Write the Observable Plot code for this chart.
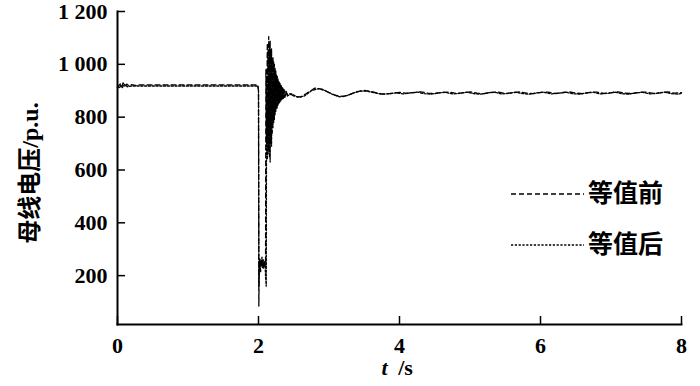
<!DOCTYPE html>
<html>
<head>
<meta charset="utf-8">
<script src="https://cdn.jsdelivr.net/npm/d3@7"></script>
<script src="https://cdn.jsdelivr.net/npm/@observablehq/plot@0.6"></script>
<style>
  html, body { margin: 0; padding: 0; background: #fff; }
  #wrap { position: relative; width: 700px; height: 386px; }
  #wrap svg text { font-family: "Liberation Serif", "Noto Sans CJK SC", serif; }
  #legend { position: absolute; left: 0; top: 0; }
</style>
</head>
<body>
<div id="wrap"></div>
<script>
// ---- data ----
const seriesNames = ["等值前", "等值后"];
const xTicks = [0, 2, 4, 6, 8];
const yTicks = [200, 400, 600, 800, 1000, 1200];
const yLabel = "母线电压/p.u.";

const tBefore = [0, 0.02, 0.04, 0.06, 0.08, 0.1, 0.13, 0.16, 0.2, 0.25, 0.3, 0.6, 1.0, 1.5, 1.99,
  2.0, 2.005, 2.01, 2.02, 2.03, 2.04, 2.05, 2.06, 2.07, 2.08, 2.09, 2.1,
  2.105, 2.115, 2.125, 2.135, 2.145, 2.155, 2.165, 2.175, 2.185, 2.195, 2.205, 2.215, 2.225, 2.235,
  2.245, 2.255, 2.265, 2.275, 2.285, 2.295, 2.305, 2.315, 2.325, 2.335, 2.345, 2.355, 2.365, 2.375,
  2.39, 2.41, 2.44, 2.5, 2.6, 2.7, 2.8, 2.9, 3.0, 3.1, 3.2, 3.3, 3.4, 3.5, 3.6, 3.7, 3.8, 3.9,
  4.0, 4.1, 4.2, 4.3, 4.4, 4.5, 4.6, 4.7, 4.8, 4.9, 5.0, 5.1, 5.2, 5.3, 5.4, 5.5, 5.6, 5.7, 5.8, 5.9,
  6.0, 6.1, 6.2, 6.3, 6.4, 6.5, 6.6, 6.7, 6.8, 6.9, 7.0, 7.1, 7.2, 7.3, 7.4, 7.5, 7.6, 7.7, 7.8, 7.9, 8.0];
const vBefore = [912, 920, 926, 915, 930, 917, 925, 919, 923, 920, 922, 922, 922, 922, 922,
  900, 85, 230, 255, 215, 260, 240, 250, 225, 255, 235, 245,
  980, 700, 1080, 660, 1105, 650, 1090, 700, 1060, 740, 1030, 780, 1000, 810,
  975, 830, 955, 845, 940, 855, 928, 862, 918, 868, 910, 872, 903, 876,
  897, 880, 890, 880, 876, 893, 910, 906, 893, 882, 878, 886, 897, 901, 897, 890, 887, 890,
  894, 890, 893, 896, 891, 889, 894, 895, 890, 892, 896, 891, 889, 894, 895, 890, 892, 896, 891, 889,
  894, 895, 890, 892, 896, 891, 889, 894, 895, 890, 892, 896, 891, 889, 894, 895, 890, 892, 896, 891, 893];

const tAfter = [0, 0.03, 0.05, 0.07, 0.1, 0.14, 0.2, 0.3, 1.0, 1.5, 1.99,
  2.0, 2.006, 2.012, 2.02, 2.03, 2.04, 2.05, 2.06, 2.07, 2.08, 2.09, 2.1, 2.11,
  2.115, 2.125, 2.135, 2.145, 2.155, 2.165, 2.175, 2.185, 2.195, 2.205, 2.215, 2.225, 2.235,
  2.245, 2.255, 2.265, 2.275, 2.285, 2.295, 2.305, 2.315, 2.325, 2.335, 2.345, 2.355, 2.37,
  2.39, 2.42, 2.47, 2.55, 2.65, 2.75, 2.85, 2.95, 3.05, 3.15, 3.25, 3.35, 3.45, 3.55, 3.65, 3.75, 3.85, 3.95,
  4.05, 4.15, 4.25, 4.35, 4.45, 4.55, 4.65, 4.75, 4.85, 4.95, 5.05, 5.15, 5.25, 5.35, 5.45, 5.55, 5.65, 5.75, 5.85, 5.95,
  6.05, 6.15, 6.25, 6.35, 6.45, 6.55, 6.65, 6.75, 6.85, 6.95, 7.05, 7.15, 7.25, 7.35, 7.45, 7.55, 7.65, 7.75, 7.85, 7.95, 8.0];
const vAfter = [918, 910, 922, 912, 924, 915, 918, 918, 918, 918, 918,
  905, 160, 240, 265, 235, 250, 270, 230, 260, 240, 255, 200, 160,
  950, 640, 1050, 680, 1075, 630, 1040, 690, 1020, 760, 1010, 790, 985,
  820, 960, 835, 945, 850, 932, 858, 922, 865, 912, 870, 905, 875,
  898, 882, 888, 876, 880, 900, 908, 900, 886, 877, 881, 892, 899, 898, 892, 887, 889, 892,
  888, 892, 895, 889, 887, 892, 894, 888, 890, 895, 889, 887, 892, 894, 888, 890, 895, 889, 887, 892,
  894, 888, 890, 895, 889, 887, 892, 894, 888, 890, 895, 889, 887, 892, 894, 888, 890, 895, 889, 887, 890];

// ---- build ----
const lineData = [
  ...tBefore.map((t, i) => ({t, v: vBefore[i], s: seriesNames[0]})),
  ...tAfter.map((t, i) => ({t, v: vAfter[i], s: seriesNames[1]}))
];
const dashes = {[seriesNames[0]]: "5,3", [seriesNames[1]]: "2.2,1.6"};
const fmt = d3.formatLocale({decimal: ".", thousands: " ", grouping: [3], currency: ["", ""]}).format(",");
const font = "Liberation Serif, Noto Sans CJK SC, serif";

const chart = Plot.plot({
  width: 700, height: 386,
  marginLeft: 117, marginRight: 19, marginTop: 11, marginBottom: 62,
  x: {domain: [0, 8]},
  y: {domain: [15, 1200]},
  style: {fontFamily: font, fontWeight: "bold", fontSize: "22px", color: "black", background: "white", overflow: "visible"},
  marks: [
    Plot.axisY(yTicks, {tickSize: -8, tickFormat: () => "", label: null, strokeWidth: 1.5}),
    Plot.axisY(yTicks, {tickSize: 0, tickPadding: 10, tickFormat: fmt, label: null, fontSize: 22, fontWeight: "bold", fontFamily: font}),
    Plot.axisX(xTicks, {tickSize: -8, tickFormat: () => "", label: null, strokeWidth: 1.5}),
    Plot.axisX(xTicks, {tickSize: 0, tickPadding: 13, tickFormat: d => String(d), label: null, fontSize: 22, fontWeight: "bold", fontFamily: font}),
    Plot.frame({anchor: "left", strokeWidth: 2}),
    Plot.frame({anchor: "bottom", strokeWidth: 2}),
    ...seriesNames.map(name => Plot.line(lineData.filter(d => d.s === name), {
      x: "t", y: "v", stroke: "black", strokeWidth: 1.3, strokeDasharray: dashes[name]
    })),
    Plot.text([yLabel], {frameAnchor: "left", rotate: -90, textAnchor: "middle", dx: -87, dy: 5, text: d => d, fontSize: 24, fontWeight: "bold", fontFamily: font}),
    Plot.text(["t"], {frameAnchor: "bottom", dy: 50, dx: -15, text: d => d, fontStyle: "italic", fontSize: 22, fontWeight: "bold", fontFamily: font}),
    Plot.text(["/s"], {frameAnchor: "bottom", dy: 50, dx: 6, text: d => d, fontSize: 22, fontWeight: "bold", fontFamily: font})
  ]
});
const wrap = document.getElementById("wrap");
wrap.appendChild(chart);

// legend overlay
const leg = d3.select(wrap).append("svg").attr("id", "legend").attr("width", 700).attr("height", 386);
const legRows = [{name: seriesNames[0], y: 194}, {name: seriesNames[1], y: 245}];
legRows.forEach(r => {
  leg.append("line").attr("x1", 511).attr("x2", 584).attr("y1", r.y).attr("y2", r.y)
    .attr("stroke", "black").attr("stroke-width", 1.3).attr("stroke-dasharray", dashes[r.name]);
  leg.append("text").attr("x", 588).attr("y", r.y + 2).attr("dominant-baseline", "middle")
    .attr("font-family", font).attr("font-weight", "bold").attr("font-size", 25).text(r.name);
});
</script>
</body>
</html>
